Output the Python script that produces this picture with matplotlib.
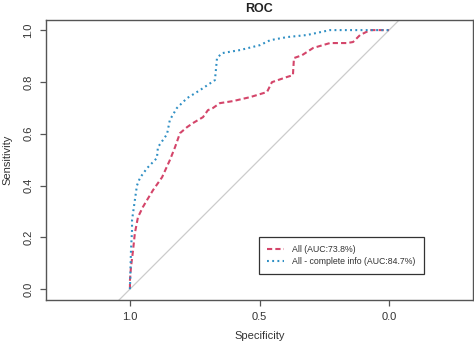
import matplotlib.pyplot as plt

plt.rcParams['font.family'] = ['Liberation Sans', 'DejaVu Sans']

# ROC curve points (specificity, sensitivity)
spec_all = [1.0, 1.0, 0.996, 0.988, 0.981, 0.969, 0.950, 0.934, 0.911, 0.876,
            0.846, 0.826, 0.807, 0.780, 0.757, 0.718, 0.699, 0.680, 0.653,
            0.602, 0.537, 0.471, 0.452, 0.394, 0.371, 0.367, 0.336, 0.293,
            0.228, 0.162, 0.139, 0.112, 0.073, 0.0]
sens_all = [0.0, 0.035, 0.085, 0.150, 0.216, 0.278, 0.317, 0.344, 0.382, 0.432,
            0.498, 0.548, 0.602, 0.625, 0.641, 0.664, 0.691, 0.699, 0.718,
            0.726, 0.741, 0.761, 0.799, 0.819, 0.826, 0.892, 0.903, 0.931,
            0.950, 0.950, 0.954, 0.981, 1.0, 1.0]

spec_cmp = [1.0, 0.996, 0.992, 0.992, 0.981, 0.973, 0.961, 0.934, 0.896, 0.892,
            0.857, 0.846, 0.819, 0.780, 0.730, 0.672, 0.664, 0.645, 0.575,
            0.498, 0.459, 0.394, 0.317, 0.228, 0.085, 0.0]
sens_cmp = [0.0, 0.150, 0.228, 0.266, 0.344, 0.400, 0.430, 0.467, 0.506, 0.548,
            0.598, 0.653, 0.699, 0.737, 0.768, 0.807, 0.892, 0.911, 0.923,
            0.942, 0.961, 0.973, 0.981, 1.0, 1.0, 1.0]

labels = ['All (AUC:73.8%)', 'All - complete info (AUC:84.7%)']

fig = plt.figure(figsize=(4.74, 3.51), dpi=100)
ax = fig.add_axes([46/474, 51/351, 427/474, 280/351])

# chance line
ax.plot([-1, 2], [2, -1], color='#cccccc', lw=0.9, zorder=1)

ax.plot(spec_all, sens_all, color='#d4456a', lw=1.5, dashes=(2.5, 1.5),
        label=labels[0])
ax.plot(spec_cmp, sens_cmp, color='#2f8fc4', lw=1.5, dashes=(0.9, 1.6),
        label=labels[1])

ax.set_xlim(1.324, -0.324)
ax.set_ylim(-0.042, 1.039)
ax.set_xticks([1.0, 0.5, 0.0])
ax.set_xticklabels(['1.0', '0.5', '0.0'])
ax.set_yticks([0.0, 0.2, 0.4, 0.6, 0.8, 1.0])
ax.set_yticklabels(['0.0', '0.2', '0.4', '0.6', '0.8', '1.0'], rotation=90,
                   va='center')

for s in ax.spines.values():
    s.set_color('#555555')
    s.set_linewidth(1.0)
ax.tick_params(axis='both', length=4, width=0.9, color='#555555',
               labelsize=8, labelcolor='#333333')
ax.tick_params(axis='x', pad=5)
ax.tick_params(axis='y', pad=5)

ax.set_xlabel('Specificity', fontsize=8, color='#333333', labelpad=6)
ax.set_ylabel('Sensitivity', fontsize=8, color='#333333', labelpad=8)
ax.set_title('ROC', fontsize=9, fontweight='bold', color='#222222', pad=6)

leg = ax.legend(loc='upper left', bbox_to_anchor=(0.499, 0.225), fontsize=6.3,
                frameon=True, fancybox=False, framealpha=1, edgecolor='#333333',
                borderaxespad=0, handlelength=1.9, handletextpad=1.0,
                borderpad=0.9, labelspacing=0.4)
leg.get_frame().set_linewidth(0.9)
for t in leg.get_texts():
    t.set_color('#333333')

fig.savefig('out.png', dpi=100)
